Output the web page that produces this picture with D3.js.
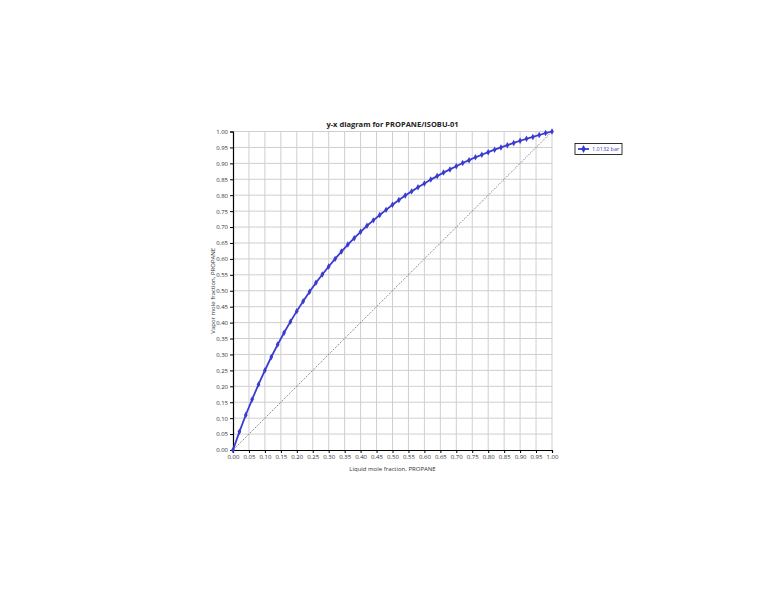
<!DOCTYPE html>
<html>
<head>
<meta charset="utf-8">
<script src="https://cdn.jsdelivr.net/npm/d3@7"></script>
<style>
  html, body { margin: 0; padding: 0; background: #fff; }
  svg { display: block; font-family: "Open Sans", "Noto Sans", sans-serif; }
</style>
</head>
<body>
<svg id="chart" width="768" height="594"></svg>
<script>
// Data
const xLiquid = [0.00,0.02,0.04,0.06,0.08,0.10,0.12,0.14,0.16,0.18,0.20,0.22,0.24,0.26,0.28,0.30,0.32,0.34,0.36,0.38,0.40,0.42,0.44,0.46,0.48,0.50,0.52,0.54,0.56,0.58,0.60,0.62,0.64,0.66,0.68,0.70,0.72,0.74,0.76,0.78,0.80,0.82,0.84,0.86,0.88,0.90,0.92,0.94,0.96,0.98,1.00];
const yVapor  = [0.000,0.057,0.110,0.159,0.206,0.250,0.292,0.331,0.368,0.403,0.436,0.467,0.497,0.525,0.551,0.576,0.600,0.623,0.645,0.665,0.685,0.704,0.721,0.738,0.754,0.770,0.785,0.799,0.812,0.825,0.837,0.849,0.860,0.871,0.881,0.891,0.901,0.910,0.919,0.927,0.935,0.943,0.950,0.957,0.964,0.971,0.977,0.983,0.989,0.995,1.000];
const xTicks = [0.00,0.05,0.10,0.15,0.20,0.25,0.30,0.35,0.40,0.45,0.50,0.55,0.60,0.65,0.70,0.75,0.80,0.85,0.90,0.95,1.00];
const yTicks = [0.00,0.05,0.10,0.15,0.20,0.25,0.30,0.35,0.40,0.45,0.50,0.55,0.60,0.65,0.70,0.75,0.80,0.85,0.90,0.95,1.00];
const diagonal = [0, 1];
const seriesName = "1.0132 bar";
const titleText = "y-x diagram for PROPANE/ISOBU-01";
const xTitle = "Liquid mole fraction, PROPANE";
const yTitle = "Vapor mole fraction, PROPANE";

const svg = d3.select("#chart");
const L = 233, R = 552, T = 131.5, B = 450;
const x = d3.scaleLinear().domain([0, 1]).range([L, R]);
const y = d3.scaleLinear().domain([0, 1]).range([B, T]);

const blue = "#3b3bd0";

// gridlines
const g = svg.append("g");
g.selectAll("line.vg").data(xTicks.slice(1)).enter().append("line")
  .attr("x1", d => x(d)).attr("x2", d => x(d)).attr("y1", B).attr("y2", T)
  .attr("stroke", "#cfcfcf").attr("stroke-width", 1);
g.selectAll("line.hg").data(yTicks.slice(1)).enter().append("line")
  .attr("x1", L).attr("x2", R).attr("y1", d => y(d)).attr("y2", d => y(d))
  .attr("stroke", "#cfcfcf").attr("stroke-width", 1);

// diagonal
svg.append("line")
  .attr("x1", x(diagonal[0])).attr("y1", y(diagonal[0]))
  .attr("x2", x(diagonal[1])).attr("y2", y(diagonal[1]))
  .attr("stroke", "#555").attr("stroke-width", 0.8).attr("stroke-dasharray", "1.2,1.2");

// axes
const fmt = d3.format(".2f");
const xAxis = svg.append("g").attr("transform", `translate(0,${B})`)
  .call(d3.axisBottom(x).tickValues(xTicks).tickFormat(fmt).tickSize(3).tickPadding(2));
const yAxis = svg.append("g").attr("transform", `translate(${L},0)`)
  .call(d3.axisLeft(y).tickValues(yTicks).tickFormat(fmt).tickSize(3).tickPadding(2));
[xAxis, yAxis].forEach(a => {
  a.select(".domain").attr("stroke", "#000").attr("stroke-width", 1.2);
  a.selectAll(".tick line").attr("stroke", "#000");
  a.selectAll(".tick text").attr("font-size", 6).attr("fill", "#333")
    .attr("font-family", "'Open Sans', 'Noto Sans', sans-serif");
});

// series line
const pts = xLiquid.map((d, i) => [d, yVapor[i]]);
svg.append("path").datum(pts)
  .attr("fill", "none").attr("stroke", blue).attr("stroke-width", 1.8)
  .attr("d", d3.line().x(d => x(d[0])).y(d => y(d[1])));
const sym = d3.symbol().type(d3.symbolDiamond).size(12);
svg.selectAll("path.mk").data(pts).enter().append("path")
  .attr("transform", d => `translate(${x(d[0])},${y(d[1])})`)
  .attr("d", sym).attr("fill", blue);

// title
svg.append("text").attr("x", (L + R) / 2).attr("y", 127)
  .attr("text-anchor", "middle").attr("font-size", 7.5).attr("font-weight", "bold")
  .attr("fill", "#222").text(titleText);
svg.append("text").attr("x", (L + R) / 2).attr("y", 471)
  .attr("text-anchor", "middle").attr("font-size", 6).attr("fill", "#333").text(xTitle);
svg.append("text").attr("transform", `translate(215,${(T + B) / 2}) rotate(-90)`)
  .attr("text-anchor", "middle").attr("font-size", 6).attr("fill", "#333").text(yTitle);

// legend
const lg = svg.append("g").attr("transform", "translate(575,143.5)");
lg.append("rect").attr("width", 47).attr("height", 11)
  .attr("fill", "#fff").attr("stroke", "#000").attr("stroke-width", 0.8);
lg.append("line").attr("x1", 3).attr("x2", 14).attr("y1", 5.5).attr("y2", 5.5)
  .attr("stroke", blue).attr("stroke-width", 1.8);
lg.append("path").attr("transform", "translate(8.5,5.5)").attr("d", d3.symbol().type(d3.symbolDiamond).size(18)).attr("fill", blue);
lg.append("text").attr("x", 17).attr("y", 7.6).attr("font-size", 5.5).attr("fill", blue).text(seriesName);
</script>
</body>
</html>
